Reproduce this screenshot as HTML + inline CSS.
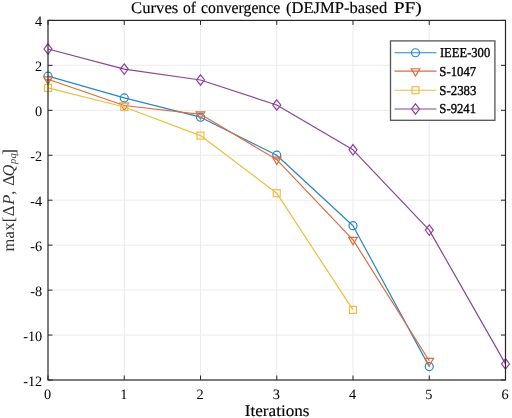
<!DOCTYPE html>
<html><head><meta charset="utf-8"><style>
html,body{margin:0;padding:0;background:#fff;}
body{width:512px;height:418px;overflow:hidden;}
svg{display:block;}
.t{font-family:"Liberation Serif","DejaVu Serif",serif;fill:#000;text-rendering:geometricPrecision;stroke:#000;stroke-width:0.15px;}
.n{stroke:none;}
.lg{stroke-width:0.35px;}
</style></head><body>
<svg width="512" height="418" viewBox="0 0 512 418">
<line x1="124.25" y1="20.4" x2="124.25" y2="380.0" stroke="#ebebeb" stroke-width="1"/>
<line x1="200.50" y1="20.4" x2="200.50" y2="380.0" stroke="#ebebeb" stroke-width="1"/>
<line x1="276.75" y1="20.4" x2="276.75" y2="380.0" stroke="#ebebeb" stroke-width="1"/>
<line x1="353.00" y1="20.4" x2="353.00" y2="380.0" stroke="#ebebeb" stroke-width="1"/>
<line x1="429.25" y1="20.4" x2="429.25" y2="380.0" stroke="#ebebeb" stroke-width="1"/>
<line x1="48.0" y1="335.05" x2="505.5" y2="335.05" stroke="#ebebeb" stroke-width="1"/>
<line x1="48.0" y1="290.10" x2="505.5" y2="290.10" stroke="#ebebeb" stroke-width="1"/>
<line x1="48.0" y1="245.15" x2="505.5" y2="245.15" stroke="#ebebeb" stroke-width="1"/>
<line x1="48.0" y1="200.20" x2="505.5" y2="200.20" stroke="#ebebeb" stroke-width="1"/>
<line x1="48.0" y1="155.25" x2="505.5" y2="155.25" stroke="#ebebeb" stroke-width="1"/>
<line x1="48.0" y1="110.30" x2="505.5" y2="110.30" stroke="#ebebeb" stroke-width="1"/>
<line x1="48.0" y1="65.35" x2="505.5" y2="65.35" stroke="#ebebeb" stroke-width="1"/>
<line x1="48.00" y1="380.0" x2="48.00" y2="375.5" stroke="#262626" stroke-width="1"/>
<line x1="48.00" y1="20.4" x2="48.00" y2="24.9" stroke="#262626" stroke-width="1"/>
<line x1="124.25" y1="380.0" x2="124.25" y2="375.5" stroke="#262626" stroke-width="1"/>
<line x1="124.25" y1="20.4" x2="124.25" y2="24.9" stroke="#262626" stroke-width="1"/>
<line x1="200.50" y1="380.0" x2="200.50" y2="375.5" stroke="#262626" stroke-width="1"/>
<line x1="200.50" y1="20.4" x2="200.50" y2="24.9" stroke="#262626" stroke-width="1"/>
<line x1="276.75" y1="380.0" x2="276.75" y2="375.5" stroke="#262626" stroke-width="1"/>
<line x1="276.75" y1="20.4" x2="276.75" y2="24.9" stroke="#262626" stroke-width="1"/>
<line x1="353.00" y1="380.0" x2="353.00" y2="375.5" stroke="#262626" stroke-width="1"/>
<line x1="353.00" y1="20.4" x2="353.00" y2="24.9" stroke="#262626" stroke-width="1"/>
<line x1="429.25" y1="380.0" x2="429.25" y2="375.5" stroke="#262626" stroke-width="1"/>
<line x1="429.25" y1="20.4" x2="429.25" y2="24.9" stroke="#262626" stroke-width="1"/>
<line x1="505.50" y1="380.0" x2="505.50" y2="375.5" stroke="#262626" stroke-width="1"/>
<line x1="505.50" y1="20.4" x2="505.50" y2="24.9" stroke="#262626" stroke-width="1"/>
<line x1="48.0" y1="380.00" x2="52.5" y2="380.00" stroke="#262626" stroke-width="1"/>
<line x1="505.5" y1="380.00" x2="501.0" y2="380.00" stroke="#262626" stroke-width="1"/>
<line x1="48.0" y1="335.05" x2="52.5" y2="335.05" stroke="#262626" stroke-width="1"/>
<line x1="505.5" y1="335.05" x2="501.0" y2="335.05" stroke="#262626" stroke-width="1"/>
<line x1="48.0" y1="290.10" x2="52.5" y2="290.10" stroke="#262626" stroke-width="1"/>
<line x1="505.5" y1="290.10" x2="501.0" y2="290.10" stroke="#262626" stroke-width="1"/>
<line x1="48.0" y1="245.15" x2="52.5" y2="245.15" stroke="#262626" stroke-width="1"/>
<line x1="505.5" y1="245.15" x2="501.0" y2="245.15" stroke="#262626" stroke-width="1"/>
<line x1="48.0" y1="200.20" x2="52.5" y2="200.20" stroke="#262626" stroke-width="1"/>
<line x1="505.5" y1="200.20" x2="501.0" y2="200.20" stroke="#262626" stroke-width="1"/>
<line x1="48.0" y1="155.25" x2="52.5" y2="155.25" stroke="#262626" stroke-width="1"/>
<line x1="505.5" y1="155.25" x2="501.0" y2="155.25" stroke="#262626" stroke-width="1"/>
<line x1="48.0" y1="110.30" x2="52.5" y2="110.30" stroke="#262626" stroke-width="1"/>
<line x1="505.5" y1="110.30" x2="501.0" y2="110.30" stroke="#262626" stroke-width="1"/>
<line x1="48.0" y1="65.35" x2="52.5" y2="65.35" stroke="#262626" stroke-width="1"/>
<line x1="505.5" y1="65.35" x2="501.0" y2="65.35" stroke="#262626" stroke-width="1"/>
<line x1="48.0" y1="20.40" x2="52.5" y2="20.40" stroke="#262626" stroke-width="1"/>
<line x1="505.5" y1="20.40" x2="501.0" y2="20.40" stroke="#262626" stroke-width="1"/>
<path d="M48.00,76.20 L124.25,97.90 L200.50,117.20 L276.75,155.20 L353.00,225.70 L429.25,366.60" fill="none" stroke="#2687c6" stroke-width="1.2" stroke-linejoin="round"/><circle cx="48.00" cy="76.20" r="4.0" fill="none" stroke="#2687c6" stroke-width="1.2"/><circle cx="124.25" cy="97.90" r="4.0" fill="none" stroke="#2687c6" stroke-width="1.2"/><circle cx="200.50" cy="117.20" r="4.0" fill="none" stroke="#2687c6" stroke-width="1.2"/><circle cx="276.75" cy="155.20" r="4.0" fill="none" stroke="#2687c6" stroke-width="1.2"/><circle cx="353.00" cy="225.70" r="4.0" fill="none" stroke="#2687c6" stroke-width="1.2"/><circle cx="429.25" cy="366.60" r="4.0" fill="none" stroke="#2687c6" stroke-width="1.2"/>
<path d="M48.00,79.30 L124.25,105.50 L200.50,114.30 L276.75,159.60 L353.00,239.80 L429.25,360.80" fill="none" stroke="#de6c3b" stroke-width="1.2" stroke-linejoin="round"/><path d="M43.70,76.83L52.30,76.83L48.00,84.23Z" fill="none" stroke="#de6c3b" stroke-width="1.2" stroke-linejoin="miter"/><path d="M119.95,103.03L128.55,103.03L124.25,110.43Z" fill="none" stroke="#de6c3b" stroke-width="1.2" stroke-linejoin="miter"/><path d="M196.20,111.83L204.80,111.83L200.50,119.23Z" fill="none" stroke="#de6c3b" stroke-width="1.2" stroke-linejoin="miter"/><path d="M272.45,157.13L281.05,157.13L276.75,164.53Z" fill="none" stroke="#de6c3b" stroke-width="1.2" stroke-linejoin="miter"/><path d="M348.70,237.33L357.30,237.33L353.00,244.73Z" fill="none" stroke="#de6c3b" stroke-width="1.2" stroke-linejoin="miter"/><path d="M424.95,358.33L433.55,358.33L429.25,365.73Z" fill="none" stroke="#de6c3b" stroke-width="1.2" stroke-linejoin="miter"/>
<path d="M48.00,87.90 L124.25,107.00 L200.50,135.60 L276.75,193.20 L353.00,309.90" fill="none" stroke="#efbc41" stroke-width="1.2" stroke-linejoin="round"/><rect x="44.50" y="84.40" width="7.0" height="7.0" fill="none" stroke="#efbc41" stroke-width="1.2"/><rect x="120.75" y="103.50" width="7.0" height="7.0" fill="none" stroke="#efbc41" stroke-width="1.2"/><rect x="197.00" y="132.10" width="7.0" height="7.0" fill="none" stroke="#efbc41" stroke-width="1.2"/><rect x="273.25" y="189.70" width="7.0" height="7.0" fill="none" stroke="#efbc41" stroke-width="1.2"/><rect x="349.50" y="306.40" width="7.0" height="7.0" fill="none" stroke="#efbc41" stroke-width="1.2"/>
<path d="M48.00,49.00 L124.25,69.10 L200.50,80.00 L276.75,105.00 L353.00,149.80 L429.25,230.10 L505.50,363.90" fill="none" stroke="#8a4399" stroke-width="1.2" stroke-linejoin="round"/><path d="M48.00,43.80L52.00,49.00L48.00,54.20L44.00,49.00Z" fill="none" stroke="#8a4399" stroke-width="1.2"/><path d="M124.25,63.90L128.25,69.10L124.25,74.30L120.25,69.10Z" fill="none" stroke="#8a4399" stroke-width="1.2"/><path d="M200.50,74.80L204.50,80.00L200.50,85.20L196.50,80.00Z" fill="none" stroke="#8a4399" stroke-width="1.2"/><path d="M276.75,99.80L280.75,105.00L276.75,110.20L272.75,105.00Z" fill="none" stroke="#8a4399" stroke-width="1.2"/><path d="M353.00,144.60L357.00,149.80L353.00,155.00L349.00,149.80Z" fill="none" stroke="#8a4399" stroke-width="1.2"/><path d="M429.25,224.90L433.25,230.10L429.25,235.30L425.25,230.10Z" fill="none" stroke="#8a4399" stroke-width="1.2"/><path d="M505.50,358.70L509.50,363.90L505.50,369.10L501.50,363.90Z" fill="none" stroke="#8a4399" stroke-width="1.2"/>
<rect x="48.0" y="20.4" width="457.5" height="359.6" fill="none" stroke="#262626" stroke-width="1.2"/>
<text x="47.50" y="399" text-anchor="middle" class="t n" font-size="14.3">0</text>
<text x="123.75" y="399" text-anchor="middle" class="t n" font-size="14.3">1</text>
<text x="200.00" y="399" text-anchor="middle" class="t n" font-size="14.3">2</text>
<text x="276.25" y="399" text-anchor="middle" class="t n" font-size="14.3">3</text>
<text x="352.50" y="399" text-anchor="middle" class="t n" font-size="14.3">4</text>
<text x="428.75" y="399" text-anchor="middle" class="t n" font-size="14.3">5</text>
<text x="505.00" y="399" text-anchor="middle" class="t n" font-size="14.3">6</text>
<text x="42.2" y="385.50" text-anchor="end" class="t n" font-size="14.3">-12</text>
<text x="42.2" y="340.55" text-anchor="end" class="t n" font-size="14.3">-10</text>
<text x="42.2" y="295.60" text-anchor="end" class="t n" font-size="14.3">-8</text>
<text x="42.2" y="250.65" text-anchor="end" class="t n" font-size="14.3">-6</text>
<text x="42.2" y="205.70" text-anchor="end" class="t n" font-size="14.3">-4</text>
<text x="42.2" y="160.75" text-anchor="end" class="t n" font-size="14.3">-2</text>
<text x="42.2" y="115.80" text-anchor="end" class="t n" font-size="14.3">0</text>
<text x="42.2" y="70.85" text-anchor="end" class="t n" font-size="14.3">2</text>
<text x="42.2" y="25.90" text-anchor="end" class="t n" font-size="14.3">4</text>
<text x="131.13" y="13.0" class="t" font-size="16.3" textLength="47.21" lengthAdjust="spacingAndGlyphs">Curves</text>
<text x="183.02" y="13.0" class="t" font-size="16.3" textLength="13.04" lengthAdjust="spacingAndGlyphs">of</text>
<text x="201.12" y="13.0" class="t" font-size="16.3" textLength="79.03" lengthAdjust="spacingAndGlyphs">convergence</text>
<text x="286.04" y="13.0" class="t" font-size="16.3" textLength="101.20" lengthAdjust="spacingAndGlyphs">(DEJMP-based</text>
<text x="393.70" y="13.0" class="t" font-size="16.3" textLength="28.15" lengthAdjust="spacingAndGlyphs">PF)</text>
<text x="244.77" y="415.6" class="t" font-size="16.3" textLength="64.74" lengthAdjust="spacingAndGlyphs">Iterations</text>
<text transform="translate(14.2,201) rotate(-90)" class="t" style="stroke:none;fill:#333" font-size="16.5"><tspan x="-50.6" letter-spacing="0.35">max[&#916;</tspan><tspan font-style="italic" dx="0.6">P</tspan><tspan letter-spacing="0.3">, &#916;</tspan><tspan font-style="italic" x="24.6">Q</tspan><tspan font-style="italic" font-size="10.4" x="37.0" dy="1.6" letter-spacing="0.3">pq</tspan><tspan x="46.0" dy="-1.2" font-size="18">]</tspan></text>
<rect x="390.5" y="40.9" width="104.39999999999998" height="79.4" fill="#fff" stroke="#555" stroke-width="1.3"/>
<line x1="394.5" y1="52.75" x2="436.5" y2="52.75" stroke="#2687c6" stroke-width="1.2"/>
<circle cx="415.50" cy="52.75" r="4.0" fill="none" stroke="#2687c6" stroke-width="1.2"/>
<line x1="394.5" y1="71.2" x2="436.5" y2="71.2" stroke="#de6c3b" stroke-width="1.2"/>
<path d="M411.20,68.73L419.80,68.73L415.50,76.13Z" fill="none" stroke="#de6c3b" stroke-width="1.2" stroke-linejoin="miter"/>
<line x1="394.5" y1="90.25" x2="436.5" y2="90.25" stroke="#efbc41" stroke-width="1.2"/>
<rect x="412.00" y="86.75" width="7.0" height="7.0" fill="none" stroke="#efbc41" stroke-width="1.2"/>
<line x1="394.5" y1="109.0" x2="436.5" y2="109.0" stroke="#8a4399" stroke-width="1.2"/>
<path d="M415.50,103.80L419.50,109.00L415.50,114.20L411.50,109.00Z" fill="none" stroke="#8a4399" stroke-width="1.2"/>
<text x="439.94" y="57.0" class="t lg" font-size="13.6" textLength="50.23" lengthAdjust="spacingAndGlyphs">IEEE-300</text>
<text x="439.36" y="75.6" class="t lg" font-size="13.6" textLength="36.80" lengthAdjust="spacingAndGlyphs">S-1047</text>
<text x="439.36" y="94.9" class="t lg" font-size="13.6" textLength="37.04" lengthAdjust="spacingAndGlyphs">S-2383</text>
<text x="439.37" y="113.2" class="t lg" font-size="13.6" textLength="36.66" lengthAdjust="spacingAndGlyphs">S-9241</text>
</svg>
</body></html>
